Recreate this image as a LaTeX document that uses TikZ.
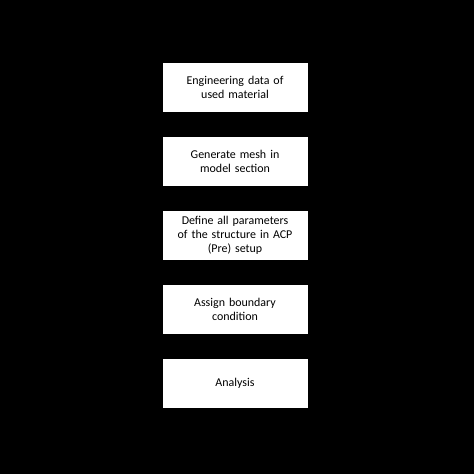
\documentclass[tikz,border=0pt]{standalone}
\usepackage{fontspec}
\setmainfont{Carlito}
\usetikzlibrary{positioning}

\begin{document}
\begin{tikzpicture}[x=1bp, y=-1bp,
		stepbox/.style={draw=white, fill=white, text=black, minimum width=144bp, minimum height=48bp,
			text width=136bp, align=center, inner sep=2bp, font=\fontsize{12}{14}\selectfont},
		node distance=25.5bp]
			\fill[black] (0, 0) rectangle (474, 474);
			\useasboundingbox (0, 0) rectangle (474, 474);
			\node[stepbox] (data) at (235, 87.5) {Engineering data of\\used material};
			\node[stepbox, below=of data] (mesh) {Generate mesh in\\model section};
			\node[stepbox, below=of mesh] (param) {Define all parameters\\of the structure in ACP\\(Pre) setup};
			\node[stepbox, below=of param] (bound) {Assign boundary\\condition};
			\node[stepbox, below=of bound] (anal) {Analysis};
		\end{tikzpicture}
\end{document}
